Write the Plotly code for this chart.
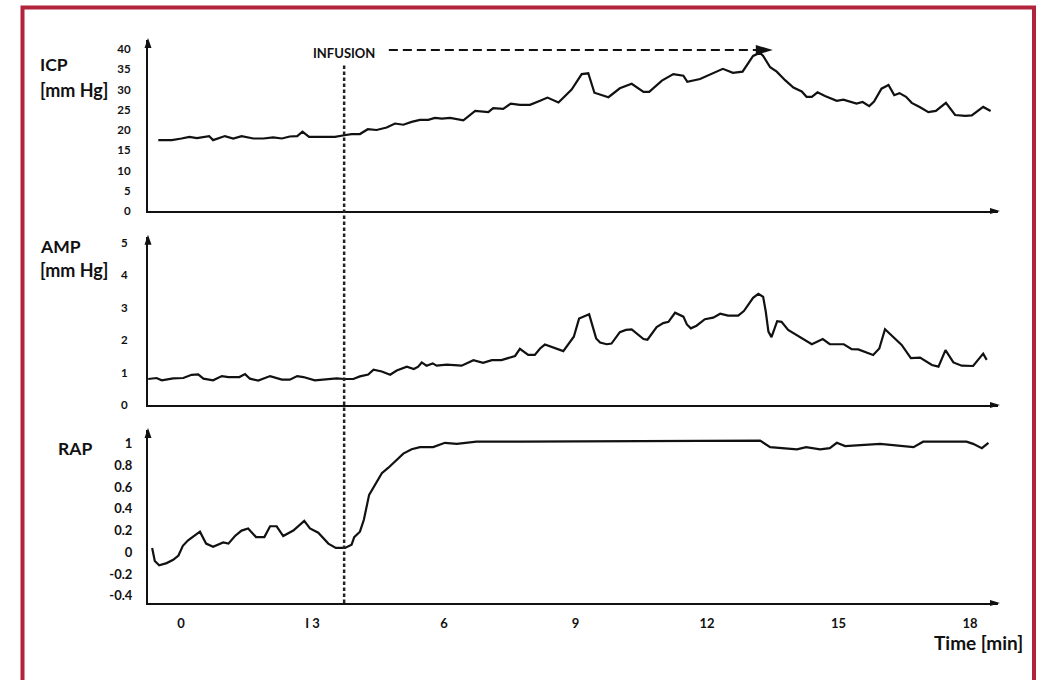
import plotly.graph_objects as go

# ---------------- data ----------------
icp_t = [-0.52, -0.21, 0.01, 0.19, 0.36, 0.64, 0.73, 1.00, 1.19, 1.38,
         1.65, 1.88, 2.10, 2.30, 2.48, 2.65, 2.77, 2.92, 3.24, 3.51,
         3.72, 3.89, 4.08, 4.26, 4.46, 4.69, 4.88, 5.07, 5.26, 5.45,
         5.64, 5.79, 5.95, 6.14, 6.44, 6.71, 7.01, 7.12, 7.35, 7.52,
         7.73, 7.96, 8.19, 8.36, 8.61, 8.91, 9.14, 9.29, 9.43, 9.75,
         10.01, 10.28, 10.55, 10.68, 10.97, 11.23, 11.46, 11.55, 11.84, 12.14,
         12.36, 12.59, 12.81, 13.05, 13.21, 13.28, 13.44, 13.59, 13.78, 13.97,
         14.16, 14.27, 14.39, 14.52, 14.69, 14.96, 15.11, 15.41, 15.55, 15.70,
         15.81, 15.98, 16.14, 16.27, 16.39, 16.54, 16.67, 16.86, 17.05, 17.22,
         17.45, 17.66, 17.89, 18.04, 18.30, 18.47]
icp_v = [17.5, 17.5, 17.9, 18.3, 18.0, 18.5, 17.5, 18.5, 17.9, 18.5,
         17.9, 17.9, 18.2, 17.9, 18.4, 18.5, 19.6, 18.3, 18.3, 18.3,
         18.7, 19.0, 19.0, 20.2, 20.0, 20.6, 21.6, 21.3, 22.0, 22.5,
         22.5, 23.0, 22.8, 23.0, 22.4, 24.7, 24.4, 25.4, 25.2, 26.5,
         26.2, 26.2, 27.2, 28.0, 26.8, 30.0, 33.8, 34.0, 29.2, 28.1,
         30.3, 31.4, 29.4, 29.4, 32.2, 33.8, 33.4, 31.9, 32.6, 34.1,
         35.1, 34.1, 34.4, 38.3, 39.1, 38.3, 35.5, 34.4, 32.3, 30.5,
         29.5, 28.2, 28.2, 29.3, 28.4, 27.2, 27.5, 26.5, 26.9, 25.9,
         27.0, 30.2, 31.1, 28.6, 29.1, 28.2, 26.7, 25.6, 24.4, 24.7,
         26.7, 23.7, 23.5, 23.6, 25.7, 24.7]

amp_t = [-0.75, -0.56, -0.44, -0.18, 0.05, 0.24, 0.39, 0.51, 0.73, 0.93,
         1.08, 1.33, 1.46, 1.57, 1.76, 2.03, 2.30, 2.48, 2.65, 2.79,
         3.05, 3.32, 3.55, 3.72, 3.93, 4.08, 4.27, 4.39, 4.58, 4.77,
         4.92, 5.15, 5.31, 5.41, 5.49, 5.60, 5.74, 5.83, 6.06, 6.40,
         6.67, 6.89, 7.09, 7.31, 7.62, 7.73, 7.92, 8.07, 8.19, 8.30,
         8.72, 8.96, 9.08, 9.31, 9.47, 9.56, 9.71, 9.82, 10.01, 10.15,
         10.28, 10.55, 10.64, 10.85, 11.00, 11.12, 11.27, 11.46, 11.54, 11.63,
         11.76, 11.95, 12.14, 12.30, 12.48, 12.71, 12.84, 13.05, 13.17, 13.28,
         13.34, 13.40, 13.47, 13.60, 13.70, 13.85, 14.08, 14.39, 14.64, 14.80,
         15.12, 15.30, 15.45, 15.79, 15.93, 16.06, 16.44, 16.65, 16.86, 17.13,
         17.28, 17.44, 17.62, 17.81, 18.07, 18.30, 18.38]
amp_v = [0.80, 0.83, 0.76, 0.82, 0.83, 0.93, 0.94, 0.81, 0.76, 0.89,
         0.86, 0.86, 0.95, 0.81, 0.75, 0.89, 0.78, 0.78, 0.89, 0.86,
         0.76, 0.79, 0.82, 0.80, 0.80, 0.88, 0.94, 1.09, 1.03, 0.93,
         1.06, 1.18, 1.11, 1.18, 1.31, 1.21, 1.28, 1.21, 1.24, 1.21,
         1.38, 1.30, 1.38, 1.38, 1.51, 1.73, 1.54, 1.54, 1.74, 1.86,
         1.66, 2.10, 2.66, 2.79, 2.05, 1.92, 1.87, 1.89, 2.24, 2.31,
         2.33, 2.03, 2.01, 2.40, 2.52, 2.56, 2.84, 2.72, 2.48, 2.36,
         2.44, 2.64, 2.69, 2.81, 2.75, 2.75, 2.89, 3.30, 3.42, 3.33,
         2.87, 2.26, 2.09, 2.58, 2.56, 2.31, 2.12, 1.87, 2.03, 1.87,
         1.87, 1.72, 1.71, 1.54, 1.74, 2.33, 1.85, 1.44, 1.46, 1.23,
         1.18, 1.69, 1.31, 1.21, 1.20, 1.58, 1.39]

rap_t = [-0.66, -0.60, -0.50, -0.33, -0.18, -0.06, 0.04, 0.16, 0.43, 0.57,
         0.73, 0.96, 1.08, 1.23, 1.38, 1.53, 1.71, 1.90, 2.03, 2.18,
         2.33, 2.56, 2.81, 2.94, 3.13, 3.36, 3.53, 3.74, 3.89, 3.95,
         4.08, 4.17, 4.29, 4.42, 4.58, 4.73, 4.88, 5.07, 5.26, 5.45,
         5.75, 6.02, 6.29, 6.74, 7.73, 13.21, 13.44, 13.74, 14.05, 14.26,
         14.58, 14.80, 14.96, 15.15, 15.64, 15.95, 16.71, 16.93, 17.92, 18.07,
         18.27, 18.42]
rap_v = [0.04, -0.08, -0.12, -0.10, -0.07, -0.03, 0.06, 0.11, 0.19, 0.08,
         0.05, 0.09, 0.08, 0.15, 0.20, 0.22, 0.14, 0.14, 0.24, 0.24,
         0.15, 0.20, 0.29, 0.22, 0.18, 0.08, 0.04, 0.04, 0.07, 0.14,
         0.19, 0.30, 0.53, 0.62, 0.73, 0.78, 0.84, 0.91, 0.95, 0.97,
         0.97, 1.01, 1.00, 1.02, 1.02, 1.03, 0.97, 0.96, 0.95, 0.97,
         0.95, 0.96, 1.01, 0.98, 0.99, 1.00, 0.97, 1.02, 1.02, 1.00,
         0.96, 1.01]

x_tickvals = [0, 3, 6, 9, 12, 15, 18]
x_ticktext = ["0", "I 3", "6", "9", "12", "15", "18"]
icp_tickvals = [0, 5, 10, 15, 20, 25, 30, 35, 40]
amp_tickvals = [0, 1, 2, 3, 4, 5]
rap_tickvals = [-0.4, -0.2, 0, 0.2, 0.4, 0.6, 0.8, 1]
rap_ticktext = ["-0.4", "-0.2", "0", "0.2", "0.4", "0.6", "0.8", "1"]

infusion_start = 3.72      # min, dotted line
infusion_arrow_from = 4.74  # min, dashed arrow start
infusion_arrow_to = 13.50   # min, dashed arrow tip

# ---------------- layout geometry ----------------
W, H = 1059, 680
ML, MR, MT, MB = 148, 61, 40, 77
PW, PH = W - ML - MR, H - MT - MB


def px_x(X):
    return (X - ML) / PW


def px_y(Y):
    return (H - MB - Y) / PH


X_RANGE = [-0.755, 18.638]
dom1 = [px_y(211), 1.0]
dom2 = [px_y(405), px_y(236.7)]
dom3 = [0.0, px_y(430)]

INK = "#111111"
FONT = "Lato, 'Open Sans', sans-serif"
RED = "#b2243b"

fig = go.Figure()
line_style = dict(color=INK, width=2.2)
fig.add_trace(go.Scatter(x=icp_t, y=icp_v, mode="lines", line=line_style,
                         xaxis="x", yaxis="y", showlegend=False, hoverinfo="skip"))
fig.add_trace(go.Scatter(x=amp_t, y=amp_v, mode="lines", line=line_style,
                         xaxis="x2", yaxis="y2", showlegend=False, hoverinfo="skip"))
fig.add_trace(go.Scatter(x=rap_t, y=rap_v, mode="lines", line=line_style,
                         xaxis="x3", yaxis="y3", showlegend=False, hoverinfo="skip"))

xbase = dict(domain=[0, 1], range=X_RANGE, showline=True, linecolor=INK, linewidth=2,
             showgrid=False, zeroline=False, ticks="", fixedrange=True)
ybase = dict(showline=True, linecolor=INK, linewidth=2, showgrid=False,
             zeroline=False, ticks="", fixedrange=True)

fig.update_layout(
    width=W, height=H,
    margin=dict(l=ML, r=MR, t=MT, b=MB, pad=0),
    paper_bgcolor="white", plot_bgcolor="white",
    xaxis=dict(xbase, anchor="y", showticklabels=False),
    xaxis2=dict(xbase, anchor="y2", showticklabels=False),
    xaxis3=dict(xbase, anchor="y3", tickvals=x_tickvals, ticktext=x_ticktext,
                tickfont=dict(family=FONT, size=13, color=INK, weight="bold"),
                ticklabelstandoff=7),
    yaxis=dict(ybase, anchor="x", domain=dom1, range=[0, 42.22], tickvals=icp_tickvals,
               tickfont=dict(family=FONT, size=11.5, color=INK, weight="bold"),
               ticklabelstandoff=13),
    yaxis2=dict(ybase, anchor="x2", domain=dom2, range=[0, 5.18], tickvals=amp_tickvals,
                tickfont=dict(family=FONT, size=11.5, color=INK, weight="bold"),
                ticklabelstandoff=16),
    yaxis3=dict(ybase, anchor="x3", domain=dom3, range=[-0.468, 1.128],
                tickvals=rap_tickvals, ticktext=rap_ticktext,
                tickfont=dict(family=FONT, size=13, color=INK, weight="bold"),
                ticklabelstandoff=11),
)

shapes = []
# axis arrowheads (pixel-sized paths)
for ytop in (dom1[1], dom2[1], dom3[1]):
    shapes.append(dict(type="path", xref="paper", yref="paper", xsizemode="pixel",
                       ysizemode="pixel", xanchor=0, yanchor=ytop,
                       path="M-3.5,-8 L0,2 L3.5,-8 Z", fillcolor=INK, line=dict(width=0)))
for ybot in (dom1[0], dom2[0], dom3[0]):
    shapes.append(dict(type="path", xref="paper", yref="paper", xsizemode="pixel",
                       ysizemode="pixel", xanchor=1, yanchor=ybot,
                       path="M-8,-3 L2,0 L-8,3 Z", fillcolor=INK, line=dict(width=0)))
# infusion dotted line
shapes.append(dict(type="line", xref="x", yref="paper", x0=infusion_start, x1=infusion_start,
                   y0=0, y1=px_y(65), line=dict(color="#222", width=2.5, dash="3.5px,2.5px")))
# dashed arrow
arrow_y = px_y(50)
shapes.append(dict(type="line", xref="x", yref="paper", x0=infusion_arrow_from,
                   x1=infusion_arrow_to - 0.3, y0=arrow_y, y1=arrow_y,
                   line=dict(color=INK, width=2.2, dash="9px,5px")))
shapes.append(dict(type="path", xref="x", yref="paper", xsizemode="pixel", ysizemode="pixel",
                   xanchor=infusion_arrow_to, yanchor=arrow_y,
                   path="M-17,-5 L0,0 L-17,5 Z", fillcolor=INK, line=dict(width=0)))
# red frame
shapes.append(dict(type="rect", xref="paper", yref="paper", x0=px_x(22.5), x1=px_x(1034),
                   y0=px_y(690), y1=px_y(7.6), line=dict(color=RED, width=4),
                   fillcolor="rgba(0,0,0,0)", layer="above"))
fig.update_layout(shapes=shapes)


def label(text, X, Y, size, anchor="left"):
    return dict(text="<b>%s</b>" % text, x=px_x(X), y=px_y(Y), xref="paper", yref="paper",
                xanchor=anchor, yanchor="middle", showarrow=False,
                font=dict(family=FONT, size=size, color=INK))


annotations = [
    label("ICP", 38, 64, 17.5),
    label("[mm Hg]", 38, 90, 18),
    label("AMP", 38, 246, 17.5),
    label("[mm Hg]", 38, 270, 18),
    label("RAP", 56, 448, 17.5),
    label("Time [min]", 1025, 642.5, 19, anchor="right"),
    dict(text="<b>INFUSION</b>", x=infusion_start, xref="x", y=px_y(52.8), yref="paper",
         xanchor="center", yanchor="middle", showarrow=False,
         font=dict(family=FONT, size=13, color=INK)),
]
fig.update_layout(annotations=annotations)

fig.write_html("out.html", config={"displayModeBar": False},
               post_script="document.body.style.margin='0';document.body.style.padding='0';")
